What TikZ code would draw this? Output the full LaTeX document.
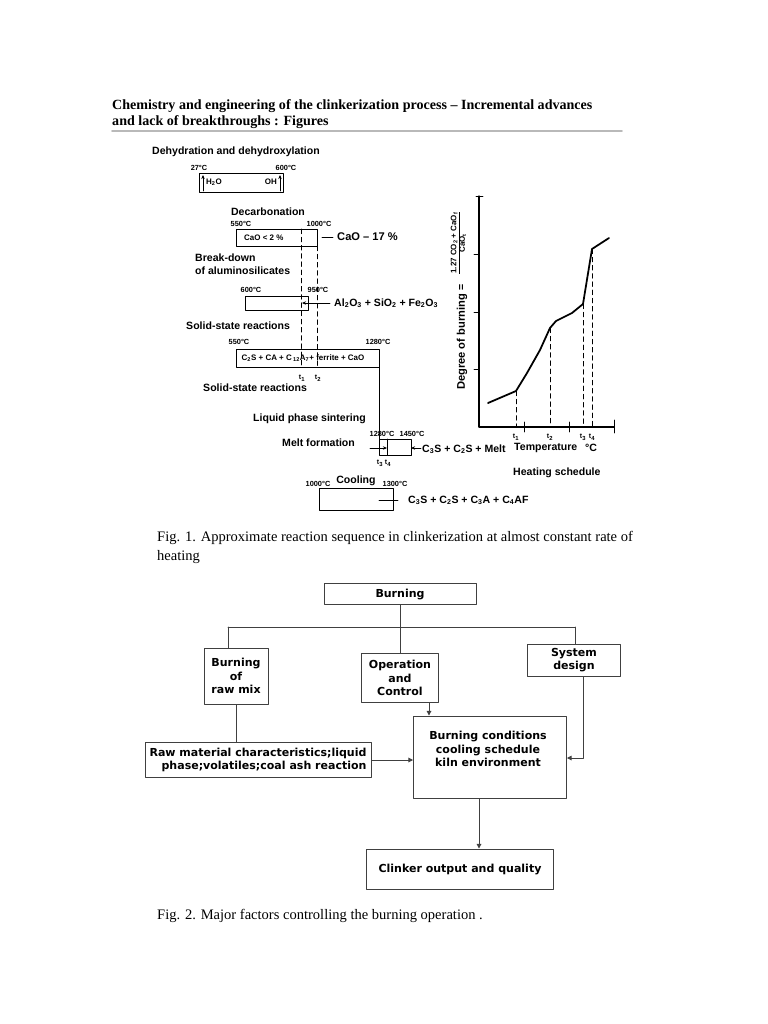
\documentclass[tikz,border=0pt]{standalone}
\usepackage{fontspec}
\setmainfont{Liberation Serif}
\newfontfamily\figsans{Liberation Sans}
\newfontfamily\flowsans{DejaVu Sans}
\usetikzlibrary{arrows.meta,calc}
\newcommand{\sbs}[1]{\textsubscript{#1}}

\begin{document}
\begin{tikzpicture}[x=0.03cm,y=-0.03cm,line cap=round,line join=round,
  ttl/.style={font=\bfseries\fontsize{12}{14}\selectfont,inner sep=0pt},
  capt/.style={font=\fontsize{12.4}{14}\selectfont,inner sep=0pt},
  lbl/.style={font=\figsans\bfseries\fontsize{9}{10}\selectfont,inner sep=0pt},
  deg/.style={font=\figsans\bfseries\fontsize{6.3}{7}\selectfont,inner sep=0pt},
  inbox/.style={font=\figsans\bfseries\fontsize{6.8}{7}\selectfont,inner sep=0pt},
  tlbl/.style={font=\figsans\bfseries\fontsize{6}{7}\selectfont,inner sep=0pt},
  fbox/.style={draw=black!75,line width=0.8pt,align=center,inner sep=1pt,
    font=\flowsans\bfseries\fontsize{9.4}{11.5}\selectfont},
  flow/.style={draw=black!75,line width=0.8pt},
  arr/.style={flow,-{Triangle[length=4pt,width=4pt]}},
  hair/.style={line width=0.6pt},
  tip/.style={hair,-{Stealth[length=3.5pt,width=3pt]}}]

\fill[white] (0,0) rectangle (768,1024);
\useasboundingbox (0,0) rectangle (768,1024);

% ---- title ----
\node[ttl,anchor=base west] (ttl1) at (112,109) {Chemistry and engineering of the clinkerization process -- Incremental advances};
\node[ttl,anchor=base west] (ttl2) at (112,125) {and lack of breakthroughs :  Figures};
\draw[gray!55,line width=1.6pt] (112,131) -- (622,131);

% ---- fig. 1: dehydration ----
\node[lbl,anchor=west] (dehyd) at (152,152) {Dehydration and dehydroxylation};
\node[deg] (d27) at (199,168) {27°C};
\node[deg] (d600) at (286,168) {600°C};
\draw[hair] (199,173) rectangle (283,192);
\draw[tip] (203,191) -- (203,175);
\node[inbox,anchor=west] (water) at (206,182) {H\sbs{2}O};
\node[inbox,anchor=east] (hydrox) at (277,182) {OH};
\draw[tip] (280,191) -- (280,175);

% ---- decarbonation ----
\node[lbl] (decarb) at (268,212) {Decarbonation};
\node[deg] (d550a) at (241,224) {550°C};
\node[deg] (d1000a) at (319,224) {1000°C};
\draw[hair] (236,229) rectangle (317,246);
\node[inbox,anchor=west] (cao2) at (244,238) {CaO < 2 \%};
\draw[hair] (322,237) -- (333,237);
\node[lbl,font=\figsans\bfseries\fontsize{9.5}{10}\selectfont,anchor=west] (cao17) at (337,237) {CaO – 17 \%};

% ---- break-down of aluminosilicates ----
\node[lbl,anchor=west] (brk1) at (195,258) {Break-down};
\node[lbl,anchor=west] (brk2) at (195,271) {of aluminosilicates};
\node[deg] (d600b) at (251,290) {600°C};
\node[deg] (d950) at (318,290) {950°C};
\draw[hair] (245,296) rectangle (308,310);
\draw[tip] (330,303) -- (302,303);
\node[lbl,anchor=west] (oxides) at (334,303) {Al\sbs{2}O\sbs{3} + SiO\sbs{2} + Fe\sbs{2}O\sbs{3}};

% ---- solid-state reactions ----
\node[lbl,anchor=west] (solid1) at (186,326) {Solid-state reactions};
\node[deg] (d550b) at (239,342) {550°C};
\node[deg] (d1280a) at (378,342) {1280°C};
\draw[hair] (236,349) rectangle (379,367);
\node[inbox] (phases) at (303,358) {C\sbs{2}S + CA + C\,\sbs{12}A\sbs{7}+ ferrite + CaO};
\draw[hair,dash pattern=on 4pt off 3pt] (301,229) -- (301,367);
\draw[hair,dash pattern=on 4pt off 3pt] (317,246) -- (317,367);
\node[tlbl] (ta1) at (302,378) {t\sbs{1}};
\node[tlbl] (ta2) at (318,378) {t\sbs{2}};
\node[lbl,anchor=west] (solid2) at (203,388) {Solid-state reactions};

% ---- liquid phase sintering ----
\draw[hair] (379,367) -- (379,439);
\node[lbl,anchor=west] (liquid) at (253,419) {Liquid phase sintering};
\node[deg] (d1280b) at (382,434) {1280°C};
\node[deg] (d1450) at (412,434) {1450°C};
\node[lbl,anchor=west] (melt) at (282,443) {Melt formation};
\draw[hair] (379,439) rectangle (411,455);
\draw[hair] (387,439) -- (387,455);
\draw[tip] (370,448) -- (387,448);
\draw[tip] (421,448) -- (411,448);
\node[lbl,anchor=west] (meltmix) at (422,449) {C\sbs{3}S + C\sbs{2}S + Melt};
\node[tlbl] (ta3) at (380,463) {t\sbs{3}};
\node[tlbl] (ta4) at (388,463) {t\sbs{4}};

% ---- cooling ----
\node[deg] (d1000b) at (318,484) {1000°C};
\node[lbl] (cool) at (356,481) {Cooling};
\node[deg] (d1300) at (395,484) {1300°C};
\draw[hair] (319,488) rectangle (393,510);
\draw[hair] (379,500) -- (398,500);
\node[lbl,anchor=west] (clinkmix) at (408,500) {C\sbs{3}S + C\sbs{2}S + C\sbs{3}A + C\sbs{4}AF};

% ---- heating schedule graph ----
\coordinate (org) at (479,427);
\draw[line width=0.9pt] (479,196) -- (org) -- (614,427);
\draw[hair] (476,196) -- (483,196);
\foreach \y in {254,312,369} \draw[hair] (474,\y) -- (479,\y);
\foreach \x in {524,569} \draw[hair] (\x,422) -- (\x,432);
\draw[hair] (614,420) -- (614,433);
\coordinate (p1) at (516,391);
\coordinate (p2) at (550,328);
\coordinate (p3) at (583,304);
\coordinate (p4) at (592,249);
\draw[line width=1.5pt] (488,403) -- (p1) -- (527,373) -- (540,350) -- (p2)
  -- (556,321) -- (572,313) -- (p3) -- (p4) -- (609,238);
\foreach \p in {p1,p2,p3,p4}
  \draw[hair,dash pattern=on 4pt off 3pt] (\p) -- (\p |- org);
\foreach \p/\i in {p1/1,p2/2,p3/3,p4/4}
  \node[tlbl] (tb\i) at ($(\p |- org)+(0,10)$) {t\sbs{\i}};
\node[lbl,rotate=90,font=\figsans\bfseries\fontsize{9.5}{10}\selectfont] (degree) at (462,342) {Degree of burning};
\node[lbl,rotate=90] (equals) at (462,287) {=};
\node[tlbl,rotate=90,font=\figsans\bfseries\fontsize{6.8}{7}\selectfont] (ratio) at (459,243)
  {$\begin{array}{@{}c@{}}\mbox{1.27 CO\sbs{2} + CaO\sbs{f}}\\\hline\mbox{CaO\sbs{t}}\end{array}$};
\node[lbl,anchor=west] (temp) at (514,448) {Temperature};
\node[lbl] (degc) at (591,448) {°C};
\node[lbl,anchor=west] (heat) at (513,473) {Heating schedule};

% ---- captions ----
\node[capt,anchor=base west] (cap1a) at (157,541) {Fig. 1. Approximate reaction sequence in clinkerization at almost constant rate of};
\node[capt,anchor=base west] (cap1b) at (157,560) {heating};

% ---- fig. 2: burning factors ----
\node[fbox,minimum width=4.56cm,minimum height=0.63cm] (burn) at (400,594) {Burning};
\node[fbox,minimum width=1.92cm,minimum height=1.68cm] (rawmix) at (236,676) {Burning\\of\\raw mix};
\node[fbox,minimum width=2.31cm,minimum height=1.47cm] (opctl) at (400,678) {Operation\\and\\Control};
\node[fbox,minimum width=2.79cm,minimum height=0.96cm] (sysdes) at (574,660) {System\\design};
\node[fbox,minimum width=6.78cm,minimum height=1.05cm] (rawchar) at (258,760)
  {\hfill Raw material characteristics;liquid\\\hfill phase;volatiles;coal ash reaction};
\node[fbox,minimum width=4.59cm,minimum height=2.46cm] (cond) at (490,757) {};
\node[font=\flowsans\bfseries\fontsize{9.4}{11.5}\selectfont,align=center,inner sep=0pt] (condtxt) at (488,749)
  {Burning conditions\\cooling schedule\\kiln environment};
\node[fbox,minimum width=5.61cm,minimum height=1.2cm] (clinker) at (460,869) {Clinker output and quality};

\coordinate (busL) at (228,627);
\coordinate (busR) at (575,627);
\coordinate (sysx) at (583,758);
\coordinate (opx) at (429,0);
\coordinate (cx) at (479,0);
\draw[flow] (burn.south) -- (opctl.north);
\draw[flow] (busL) -- (busR);
\draw[flow] (busL) -- (busL |- rawmix.north);
\draw[flow] (busR) -- (busR |- sysdes.north);
\draw[flow] (rawmix.south) -- (rawchar.north -| rawmix.south);
\draw[arr] (rawchar.east) -- (cond.west |- rawchar.east);
\draw[arr] (opctl.south -| opx) -- (cond.north -| opx);
\draw[arr] (sysdes.south -| sysx) |- (cond.east |- sysx);
\draw[arr] (cond.south -| cx) -- (clinker.north -| cx);

\node[capt,anchor=base west] (cap2) at (157,919) {Fig. 2. Major factors controlling the burning operation .};

\end{tikzpicture}
\end{document}
